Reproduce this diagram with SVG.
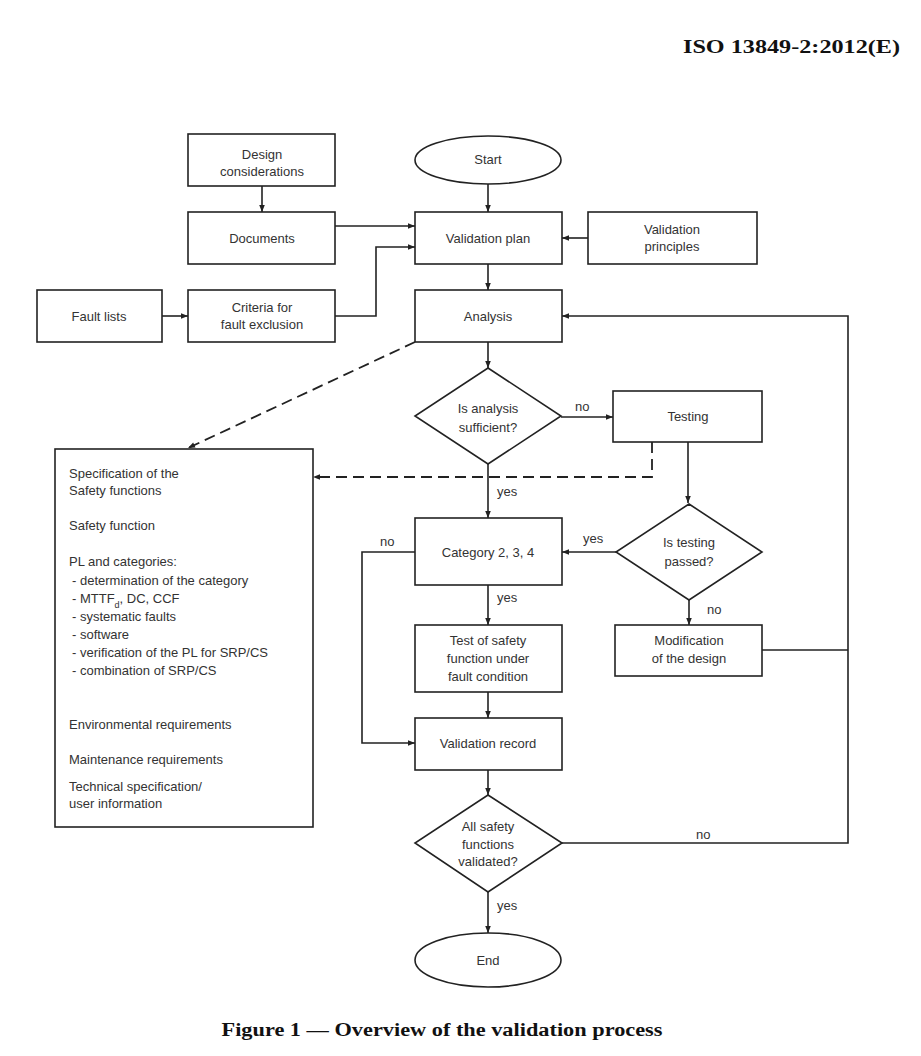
<svg xmlns="http://www.w3.org/2000/svg" width="921" height="1056" viewBox="0 0 921 1056">
<style>
.bx{fill:#fff;stroke:#222;stroke-width:1.6}
.t{font-family:"Liberation Sans",Arial,sans-serif;font-size:13px;fill:#333}
.c{text-anchor:middle}
.ln{fill:none;stroke:#222;stroke-width:1.6}
.ds{fill:none;stroke:#222;stroke-width:1.8;stroke-dasharray:11 6}
.hd{font-family:"Liberation Serif","Times New Roman",serif;font-weight:bold;fill:#111}
</style>
<defs>
<marker id="ah" viewBox="0 0 10 10" refX="10" refY="5" markerWidth="8" markerHeight="7" markerUnits="userSpaceOnUse" orient="auto">
<path d="M0,1 L10,5 L0,9 z" fill="#222"/>
</marker>
</defs>
<rect width="921" height="1056" fill="#fff"/>
<text class="hd" x="683" y="53" font-size="19" textLength="217" lengthAdjust="spacingAndGlyphs">ISO 13849-2:2012(E)</text>

<g id="connectors">
<path class="ln" d="M262,186 V212" marker-end="url(#ah)"/>
<path class="ln" d="M488,184 V212" marker-end="url(#ah)"/>
<path class="ln" d="M335,226 H415" marker-end="url(#ah)"/>
<path class="ln" d="M335,316 H376 V247 H415" marker-end="url(#ah)"/>
<path class="ln" d="M588,238 H562" marker-end="url(#ah)"/>
<path class="ln" d="M162,316 H188" marker-end="url(#ah)"/>
<path class="ln" d="M488,264 V290" marker-end="url(#ah)"/>
<path class="ln" d="M488,342 V368" marker-end="url(#ah)"/>
<path class="ds" d="M415,342 L188,448" marker-end="url(#ah)"/>
<path class="ln" d="M561,417 H613" marker-end="url(#ah)"/>
<path class="ds" d="M652,442 V477 H313" marker-end="url(#ah)"/>
<path class="ln" d="M688,442 V503" marker-end="url(#ah)"/>
<path class="ln" d="M488,464 V518" marker-end="url(#ah)"/>
<path class="ln" d="M616,552 H562" marker-end="url(#ah)"/>
<path class="ln" d="M689,600 V625" marker-end="url(#ah)"/>
<path class="ln" d="M488,585 V625" marker-end="url(#ah)"/>
<path class="ln" d="M415,552 H362 V743 H415" marker-end="url(#ah)"/>
<path class="ln" d="M488,692 V718" marker-end="url(#ah)"/>
<path class="ln" d="M488,770 V795" marker-end="url(#ah)"/>
<path class="ln" d="M762,650 H848"/>
<path class="ln" d="M562,843 H848 V316 H562" marker-end="url(#ah)"/>
<path class="ln" d="M488,892 V933" marker-end="url(#ah)"/>
<text class="t" x="575" y="411">no</text>
<text class="t" x="497" y="496">yes</text>
<text class="t" x="583" y="543">yes</text>
<text class="t" x="380" y="546">no</text>
<text class="t" x="497" y="602">yes</text>
<text class="t" x="707" y="614">no</text>
<text class="t" x="696" y="839">no</text>
<text class="t" x="497" y="910">yes</text>
</g>

<g id="design">
<rect class="bx" x="188" y="134" width="147" height="52"/>
<text class="t c" x="262" y="159">Design</text>
<text class="t c" x="262" y="176">considerations</text>
</g>
<g id="documents">
<rect class="bx" x="188" y="212" width="147" height="52"/>
<text class="t c" x="262" y="243">Documents</text>
</g>
<g id="faultlists">
<rect class="bx" x="37" y="290" width="125" height="52"/>
<text class="t c" x="99" y="321">Fault lists</text>
</g>
<g id="criteria">
<rect class="bx" x="188" y="290" width="147" height="52"/>
<text class="t c" x="262" y="312">Criteria for</text>
<text class="t c" x="262" y="329">fault exclusion</text>
</g>
<g id="start">
<ellipse class="bx" cx="488" cy="160" rx="73" ry="24"/>
<text class="t c" x="488" y="164">Start</text>
</g>
<g id="valplan">
<rect class="bx" x="415" y="212" width="147" height="52"/>
<text class="t c" x="488" y="243">Validation plan</text>
</g>
<g id="valprinciples">
<rect class="bx" x="588" y="212" width="169" height="52"/>
<text class="t c" x="672" y="234">Validation</text>
<text class="t c" x="672" y="251">principles</text>
</g>
<g id="analysis">
<rect class="bx" x="415" y="290" width="147" height="52"/>
<text class="t c" x="488" y="321">Analysis</text>
</g>
<g id="analysisdecision">
<polygon class="bx" points="488,368 561,416 488,464 415,416"/>
<text class="t c" x="488" y="413">Is analysis</text>
<text class="t c" x="488" y="432">sufficient?</text>
</g>
<g id="testing">
<rect class="bx" x="613" y="391" width="149" height="51"/>
<text class="t c" x="688" y="421">Testing</text>
</g>
<g id="spec">
<rect class="bx" x="55" y="449" width="258" height="378"/>
<text class="t" x="69" y="478">Specification of the</text>
<text class="t" x="69" y="495">Safety functions</text>
<text class="t" x="69" y="530">Safety function</text>
<text class="t" x="69" y="566">PL and categories:</text>
<text class="t" x="72" y="585">- determination of the category</text>
<text class="t" x="72" y="603">- MTTF<tspan font-size="9" baseline-shift="sub">d</tspan>, DC, CCF</text>
<text class="t" x="72" y="621">- systematic faults</text>
<text class="t" x="72" y="639">- software</text>
<text class="t" x="72" y="657">- verification of the PL for SRP/CS</text>
<text class="t" x="72" y="675">- combination of SRP/CS</text>
<text class="t" x="69" y="729">Environmental requirements</text>
<text class="t" x="69" y="764">Maintenance requirements</text>
<text class="t" x="69" y="791">Technical specification/</text>
<text class="t" x="69" y="808">user information</text>
</g>
<g id="category">
<rect class="bx" x="415" y="518" width="147" height="67"/>
<text class="t c" x="488" y="557">Category 2, 3, 4</text>
</g>
<g id="testdecision">
<polygon class="bx" points="689,504 762,552 689,600 616,552"/>
<text class="t c" x="689" y="547">Is testing</text>
<text class="t c" x="689" y="566">passed?</text>
</g>
<g id="testfault">
<rect class="bx" x="415" y="625" width="147" height="67"/>
<text class="t c" x="488" y="645">Test of safety</text>
<text class="t c" x="488" y="663">function under</text>
<text class="t c" x="488" y="681">fault condition</text>
</g>
<g id="modification">
<rect class="bx" x="615" y="625" width="147" height="51"/>
<text class="t c" x="689" y="645">Modification</text>
<text class="t c" x="689" y="663">of the design</text>
</g>
<g id="valrecord">
<rect class="bx" x="415" y="718" width="147" height="52"/>
<text class="t c" x="488" y="748">Validation record</text>
</g>
<g id="alldecision">
<polygon class="bx" points="488,795 562,843 488,892 415,843"/>
<text class="t c" x="488" y="831">All safety</text>
<text class="t c" x="488" y="849">functions</text>
<text class="t c" x="488" y="866">validated?</text>
</g>
<g id="end">
<ellipse class="bx" cx="488" cy="960" rx="73" ry="27"/>
<text class="t c" x="488" y="965">End</text>
</g>
<text class="hd" x="442" y="1036" font-size="18" text-anchor="middle" textLength="441" lengthAdjust="spacingAndGlyphs">Figure 1 — Overview of the validation process</text>
</svg>
